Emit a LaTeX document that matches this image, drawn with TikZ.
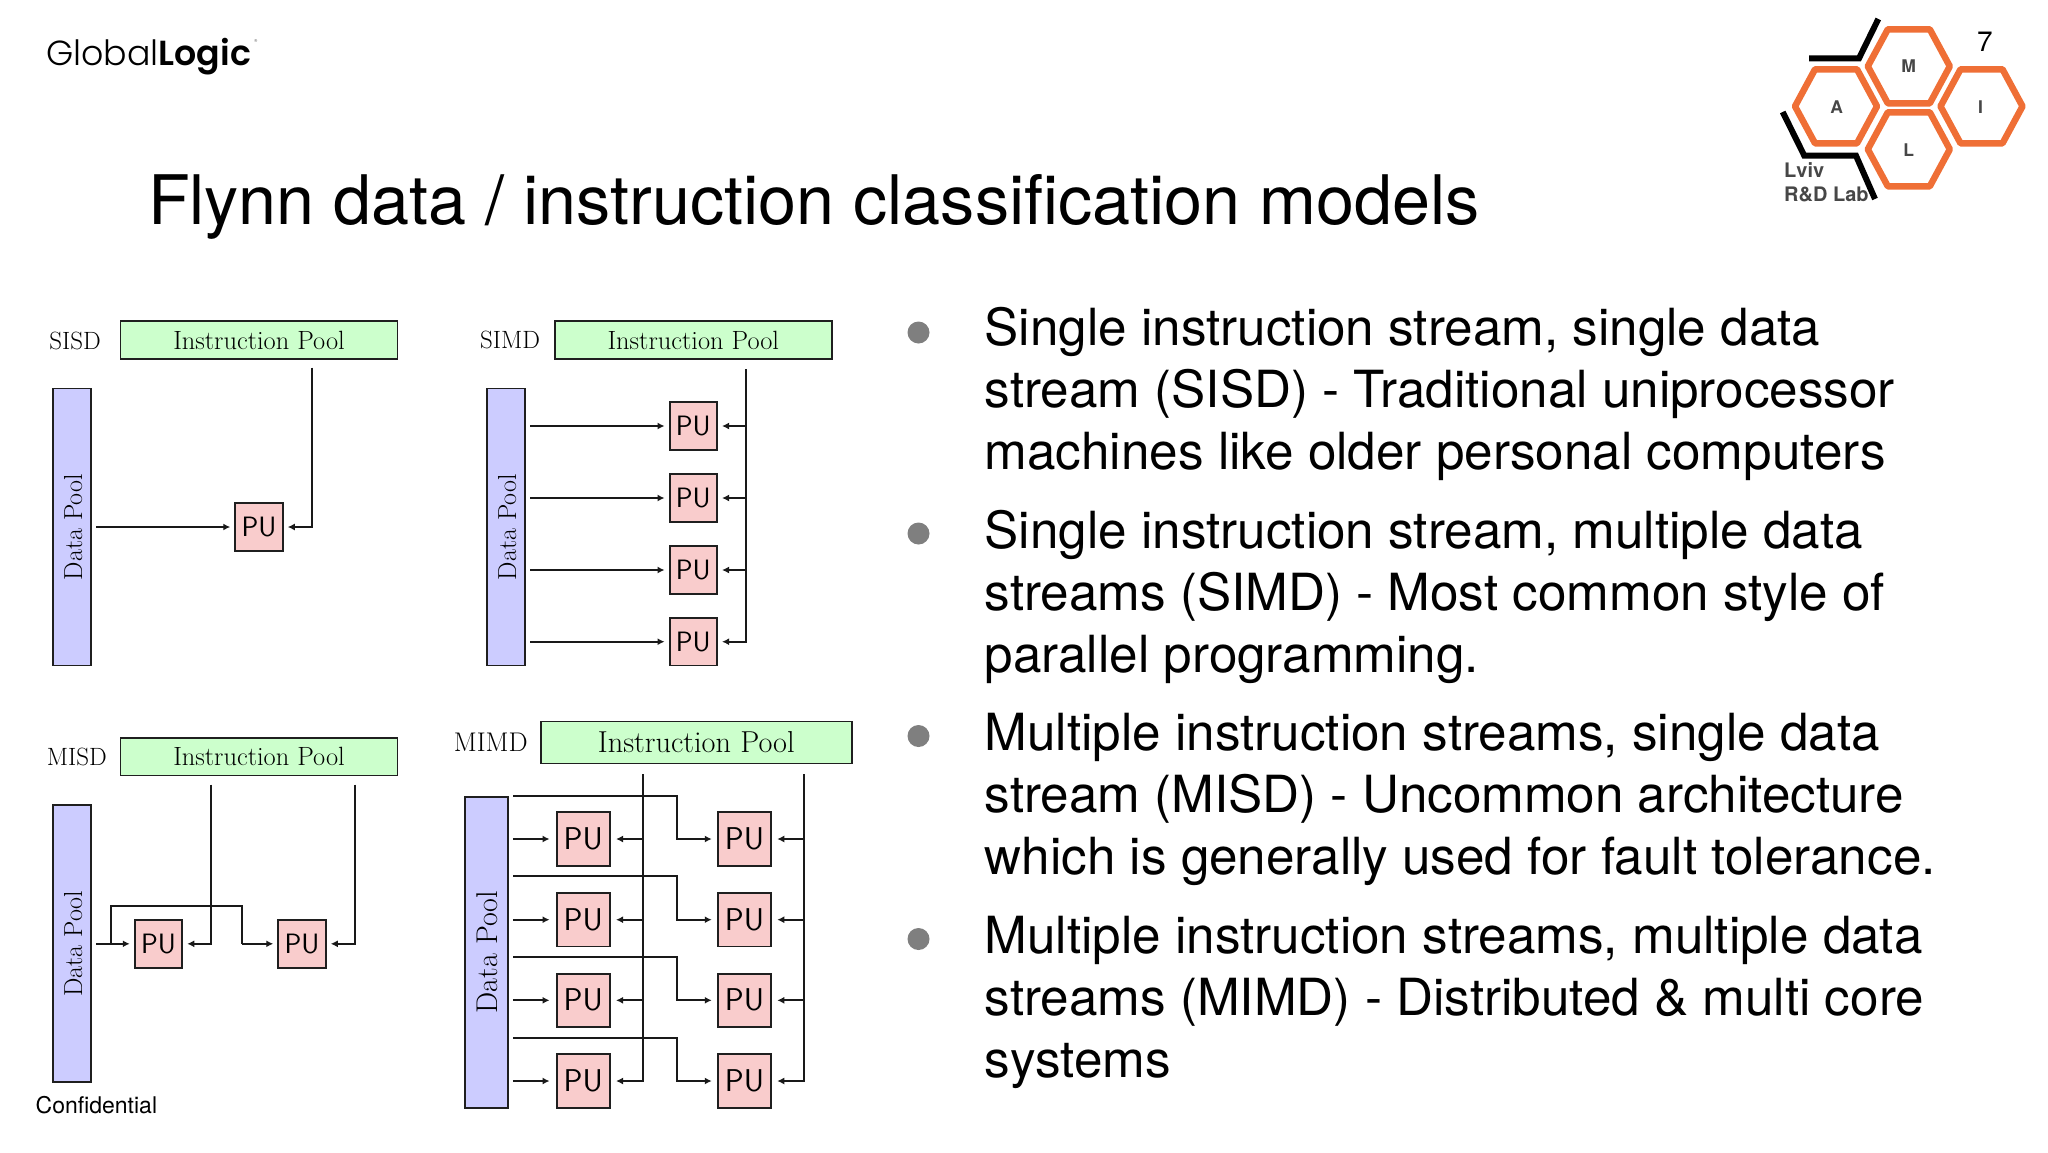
\documentclass[tikz,border=0pt]{standalone}
\usepackage{fontspec}
\usetikzlibrary{arrows.meta}
\newfontfamily\hv{TeX Gyre Heros}
\newfontfamily\popl{Poppins}[UprightFont=* Light,BoldFont=* SemiBold]
\newcommand{\fs}[2]{\fontsize{#1}{#2}\selectfont}
\newcommand{\dptext}{\hspace*{2pt}\rotatebox{90}{Data Pool}}
\tikzset{
  box/.style={draw=black!88,line width=1.9pt,inner sep=0pt,outer sep=0pt},
  ipool/.style={box,fill=ipgreen,minimum width=277pt,minimum height=37.5pt,font=\rmfamily\fs{26.4}{30}},
  ipoolb/.style={ipool,minimum width=311pt,minimum height=42pt,font=\rmfamily\fs{30.3}{34}},
  dpool/.style={box,fill=dpblue,minimum width=38pt,minimum height=277pt,font=\rmfamily\fs{26}{30}},
  dpoolb/.style={dpool,minimum width=43pt,minimum height=311pt,font=\rmfamily\fs{30}{34}},
  punit/.style={box,fill=pupink,minimum size=47.5pt,font=\sffamily\fs{28}{30}},
  punitb/.style={punit,minimum size=53.5pt,font=\sffamily\fs{31.5}{34}},
  tag/.style={inner sep=0pt,font=\rmfamily\fs{25}{28}},
  wire/.style={draw=black!90,line width=1.8pt},
  arr/.style={wire,-{Latex[length=7pt,width=7pt]}},
  body/.style={inner sep=0pt,anchor=base west,align=left,font=\hv\fs{51.2}{62}},
  bul/.style={circle,fill=bulgray,inner sep=0pt,minimum size=22pt},
  hexline/.style={draw=hexor,line width=6.5pt,line join=round},
  logoline/.style={draw=black,line width=6pt,line join=miter},
  hexl/.style={inner sep=0pt,text=hexgray,font=\hv\bfseries\fs{17.5}{20}},
}
\definecolor{ipgreen}{HTML}{CCFFCC}
\definecolor{dpblue}{HTML}{CCCCFF}
\definecolor{pupink}{HTML}{F9CCCC}
\definecolor{bulgray}{HTML}{7F7F7F}
\definecolor{hexor}{HTML}{EF6F36}
\definecolor{hexgray}{HTML}{474747}
\begin{document}
\begin{tikzpicture}[x=1pt,y=-1pt]
\useasboundingbox (0,0) rectangle (2048,1152);
% header
\node[inner sep=0pt,anchor=base west,font=\popl\fs{34.8}{40}] (logo) at (46,65) {Global\textbf{Logic}};
\node[inner sep=0pt,font=\popl\fs{7}{8},text=black!60] (reg) at (256,42) {®};
\node[inner sep=0pt,anchor=base west,font=\hv\fs{68.3}{72}] (title) at (148,224) {Flynn data / instruction classification models};
\node[inner sep=0pt,anchor=base west,font=\hv\fs{23}{26}] (conf) at (35.5,1113) {Confidential};
\node[inner sep=0pt,font=\hv\fs{28}{30}] (page) at (1985,41.7) {7};
% lab logo
\foreach \cx/\cy in {1908.8/66.3,1836/106.3,1981.5/106.3,1908.8/149.3}{
  \draw[hexline] (\cx-41,\cy) -- (\cx-21,\cy-37) -- (\cx+21,\cy-37) -- (\cx+41,\cy) -- (\cx+21,\cy+37) -- (\cx-21,\cy+37) -- cycle;
}
\draw[logoline] (1809,58.3) -- (1859,58.3) -- (1878.3,19);
\draw[logoline] (1782.7,112) -- (1804.3,155.7) -- (1856,155.7) -- (1875,199);
\node[hexl] (lm) at (1908.7,66.5) {M};
\node[hexl] (la) at (1836.7,107) {A};
\node[hexl] (li) at (1980.5,107) {I};
\node[hexl] (ll) at (1908.7,150.5) {L};
\node[inner sep=0pt,anchor=base west,align=left,text=hexgray,font=\hv\bfseries\fs{20}{23.3}] (lab) at (1784,201) {Lviv\\R\&D Lab};
% SISD
\node[tag] (t1) at (75,340.5) {SISD};
\node[ipool] (ip1) at (259,340) {Instruction Pool};
\node[dpool] (dp1) at (72.2,527) {\dptext};
\node[punit] (p1) at (259,527) {PU};
\coordinate (s1) at (311.7,367.7);
\draw[arr] ([xshift=5pt]dp1.east |- p1) -- ([xshift=-5pt]p1.west);
\draw[arr] (s1) |- ([xshift=5pt]p1.east);
% SIMD
\node[tag] (t2) at (510,340) {SIMD};
\node[ipool] (ip2) at (693.3,340) {Instruction Pool};
\node[dpool] (dp2) at (506.2,527) {\dptext};
\coordinate (s2) at (745.7,369);
\foreach \n/\y in {a/426,b/498,c/570,d/641.7}{
  \node[punit] (p2\n) at (693.3,\y) {PU};
  \draw[arr] ([xshift=5pt]dp2.east |- p2\n) -- ([xshift=-5pt]p2\n.west);
  \draw[arr] (s2) |- ([xshift=5pt]p2\n.east);
}
% MISD
\node[tag] (t3) at (76.8,757.3) {MISD};
\node[ipool] (ip3) at (259,756.7) {Instruction Pool};
\node[dpool] (dp3) at (72.2,943.8) {\dptext};
\node[punit] (p3a) at (158.5,943.8) {PU};
\node[punit] (p3b) at (302,943.8) {PU};
\coordinate (s3a) at (211.3,784.7);
\coordinate (s3b) at (354.7,784.7);
\coordinate (j3a) at (111,906.3);
\coordinate (j3b) at (241.7,906.3);
\draw[arr] ([xshift=5pt]dp3.east |- p3a) -- ([xshift=-5pt]p3a.west);
\draw[wire] (j3a |- p3a) -- (j3a) -- (j3b) -- (j3b |- p3b);
\draw[arr] (j3b |- p3b) -- ([xshift=-5pt]p3b.west);
\draw[arr] (s3a) |- ([xshift=5pt]p3a.east);
\draw[arr] (s3b) |- ([xshift=5pt]p3b.east);
% MIMD
\node[tag,font=\rmfamily\fs{27}{30}] (t4) at (490.8,742.7) {MIMD};
\node[ipoolb] (ip4) at (696.3,742.5) {Instruction Pool};
\node[dpoolb] (dp4) at (486.3,952.2) {\dptext};
\coordinate (s4a) at (642.7,774.3);
\coordinate (s4b) at (803.7,774.3);
\foreach \n/\y/\u in {a/839/796,b/919.7/876.3,c/1000.3/957.3,d/1081/1037.7}{
  \node[punitb] (q\n) at (583.3,\y) {PU};
  \node[punitb] (r\n) at (744.5,\y) {PU};
  \coordinate (u\n) at (513.3,\u);
  \coordinate (v\n) at (677,\u);
  \draw[arr] ([xshift=5pt]dp4.east |- q\n) -- ([xshift=-7pt]q\n.west);
  \draw[arr] (s4a) |- ([xshift=6pt]q\n.east);
  \draw[arr] (s4b) |- ([xshift=6pt]r\n.east);
  \draw[arr] (u\n) -- (v\n) |- ([xshift=-6pt]r\n.west);
}
% bullets and text
\node[bul] (b1) at (918.5,332.5) {};
\node[bul] (b2) at (918.5,533.5) {};
\node[bul] (b3) at (918.5,736) {};
\node[bul] (b4) at (918.5,939) {};
\node[body] (x1) at (984.5,469.5) {Single instruction stream, single data\\stream (SISD) - Traditional uniprocessor\\machines like older personal computers};
\node[body] (x2) at (984.5,672) {Single instruction stream, multiple data\\streams (SIMD) - Most common style of\\parallel programming.};
\node[body] (x3) at (984.5,874.5) {Multiple instruction streams, single data\\stream (MISD) - Uncommon architecture\\which is generally used for fault tolerance.};
\node[body] (x4) at (984.5,1077.5) {Multiple instruction streams, multiple data\\streams (MIMD) - Distributed \& multi core\\systems};
\end{tikzpicture}
\end{document}
